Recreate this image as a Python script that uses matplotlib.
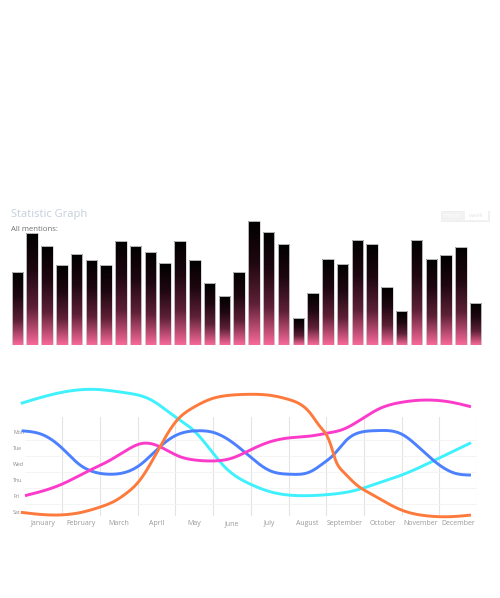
import numpy as np
import matplotlib

matplotlib.use("Agg")
import matplotlib.pyplot as plt
from matplotlib.colors import LinearSegmentedColormap
from matplotlib.patches import Rectangle

plt.rcParams["font.family"] = ["Open Sans", "DejaVu Sans"]

# bar chart: mentions per period (px-like units)
bar_values = [73, 112, 99, 80, 91, 85, 80, 104, 99, 93, 82, 104, 85, 62, 49, 73,
              124, 113, 101, 27, 52, 86, 81, 105, 101, 58, 34, 105, 86, 90, 98, 42]

months = ["January", "February", "March", "April", "May", "June", "July",
          "August", "September", "October", "November", "December"]
weekdays = ["Mon", "Tue", "Wed", "Thu", "Fri", "Sat"]

# line chart knots: x in months, y in weekday rows (Sat=0 ... Mon=5)
cyan_x = [-0.1, 0.94, 1.82, 2.66, 3.33, 3.99, 4.52, 5.0, 5.32, 5.98, 6.51, 7.0,
          7.5, 8.0, 8.8, 9.43, 10.0, 10.89, 11.84]
cyan_y = [6.79, 7.46, 7.67, 7.46, 7.04, 5.96, 5.02, 3.67, 2.79, 1.75, 1.27, 1.06,
          1.02, 1.08, 1.37, 1.85, 2.31, 3.25, 4.33]

blue_x = [-0.08, 0.5, 1.0, 1.47, 1.82, 2.27, 3.06, 3.59, 4.03, 4.6, 5.0, 5.49,
          5.98, 6.51, 7.04, 7.58, 7.92, 8.19, 8.54, 8.98, 9.35, 10.0, 10.44,
          10.89, 11.42, 11.84]
blue_y = [5.08, 4.81, 3.98, 2.94, 2.52, 2.36, 2.94, 4.08, 4.81, 5.08, 4.98, 4.39,
          3.46, 2.58, 2.36, 2.52, 3.04, 3.56, 4.5, 5.02, 5.09, 4.87, 4.08,
          3.14, 2.42, 2.31]

magenta_x = [0.01, 1.0, 1.72, 2.2, 2.66, 3.15, 3.59, 4.12, 4.52, 5.0, 5.49, 5.98,
             6.51, 7.04, 7.58, 8.01, 8.45, 8.9, 9.43, 10.0, 10.62, 11.33, 11.84]
magenta_y = [1.02, 1.75, 2.6, 3.15, 3.8, 4.3, 4.08, 3.46, 3.25, 3.19, 3.36, 3.87,
             4.39, 4.64, 4.75, 4.92, 5.17, 5.75, 6.48, 6.86, 7.0, 6.86, 6.58]

orange_x = [-0.1, 0.76, 1.47, 1.98, 2.44, 2.66, 3.06, 3.59, 4.03, 4.45, 5.0, 5.49,
            5.98, 6.5, 7.0, 7.58, 7.84, 8.01, 8.15, 8.23, 8.45, 8.81, 9.16, 10.0,
            10.71, 11.33, 11.84]
orange_y = [-0.02, -0.19, -0.04, 0.29, 0.75, 1.1, 2.0, 4.08, 5.7, 6.5, 7.11, 7.31,
            7.36, 7.3, 7.04, 6.17, 5.33, 4.81, 3.98, 3.36, 2.52, 1.69, 1.17, 0.12,
            -0.25, -0.29, -0.19]


def smooth(x, y, n=900):
    # natural cubic spline through the knots
    x = np.asarray(x, float)
    y = np.asarray(y, float)
    k = len(x)
    h = np.diff(x)
    A = np.zeros((k, k))
    b = np.zeros(k)
    A[0, 0] = A[-1, -1] = 1.0
    for i in range(1, k - 1):
        A[i, i - 1] = h[i - 1]
        A[i, i] = 2 * (h[i - 1] + h[i])
        A[i, i + 1] = h[i]
        b[i] = 6 * ((y[i + 1] - y[i]) / h[i] - (y[i] - y[i - 1]) / h[i - 1])
    M = np.linalg.solve(A, b)
    xs = np.linspace(x[0], x[-1], n)
    idx = np.clip(np.searchsorted(x, xs) - 1, 0, k - 2)
    hi = h[idx]
    a = x[idx + 1] - xs
    c = xs - x[idx]
    ys = (M[idx] * a**3 + M[idx + 1] * c**3) / (6 * hi) \
        + (y[idx] / hi - M[idx] * hi / 6) * a + (y[idx + 1] / hi - M[idx + 1] * hi / 6) * c
    return xs, ys


W, H = 500, 598
fig = plt.figure(figsize=(W / 100, H / 100), dpi=100)
fig.patch.set_facecolor("white")

# ---- bar chart ----
axb = fig.add_axes([0, 1 - 345 / H, 1, 145 / H])
axb.set_axis_off()
pitch = 14.78
x0 = 17.45
cmap = LinearSegmentedColormap.from_list("bar", ["#000000", "#1e0710", "#5e2036", "#f8699a"])
grad = np.linspace(0, 1, 256)[:, None]
bw = 0.78
for i, v in enumerate(bar_values):
    axb.imshow(grad, cmap=cmap, extent=(i - bw / 2, i + bw / 2, 0, v),
               aspect="auto", origin="upper", interpolation="bilinear")
    axb.add_patch(Rectangle((i - bw / 2, 0), bw, v, fill=False,
                            edgecolor="#d4d4d4", linewidth=0.6))
axb.set_xlim(-x0 / pitch, (W - x0) / pitch)
axb.set_ylim(0, 145)

fig.text(11 / W, 1 - 215 / H, "Statistic Graph", fontsize=8, color="#c5cfdc",
         va="center", ha="left")
fig.text(11 / W, 1 - 229 / H, "All mentions:", fontsize=5.6, color="#707070",
         va="center", ha="left")

# month / week toggle
fig.patches.append(Rectangle((440.7 / W, 1 - 220.7 / H), 48.3 / W, 10 / H,
                             transform=fig.transFigure, facecolor="#f2f2f2",
                             edgecolor="#eeeeee", linewidth=0.6))
fig.patches.append(Rectangle((465 / W, 1 - 220 / H), 23.3 / W, 8.6 / H,
                             transform=fig.transFigure, facecolor="white",
                             edgecolor="none"))
fig.text(452.5 / W, 1 - 215.7 / H, "month", fontsize=4.3, color="white",
         ha="center", va="center")
fig.text(476.5 / W, 1 - 215.7 / H, "week", fontsize=4.3, color="#e4e4e4",
         ha="center", va="center")

# ---- line chart ----
axl = fig.add_axes([24.6 / W, 1 - 516 / H, (477 - 24.6) / W, 99 / H])
axl.set_axis_off()
axl.set_xlim(0, 12)
axl.set_ylim(-0.25, 5.94)

for k in range(1, 13):
    axl.plot([k, k], [-0.25, 5.94], color="#e4e4e4", linewidth=0.8, zorder=1)
for r in np.arange(0.5, 5, 1.0):
    axl.plot([0, 12.05], [r, r], color="#f3f3f3", linewidth=0.6, zorder=1)

for j, name in enumerate(weekdays):
    axl.text(-11.5 / 37.7, 5 - j, name, fontsize=3.8, color="#8a8a8a",
             ha="left", va="center", clip_on=False, zorder=2)
for i, name in enumerate(months):
    axl.text(i + 0.5, -0.75, name, fontsize=5, color="#9a9a9a",
             ha="center", va="center", clip_on=False)

series = [
    (cyan_x, cyan_y, "#3ff0fd"),
    (blue_x, blue_y, "#4c80ff"),
    (magenta_x, magenta_y, "#fc3bcb"),
    (orange_x, orange_y, "#fd7a3c"),
]
for sx, sy, col in series:
    xs, ys = smooth(sx, sy)
    axl.plot(xs, ys, color=col, linewidth=2.1, solid_capstyle="butt",
             clip_on=False, zorder=3)

fig.savefig("out.png", dpi=100, facecolor="white")
